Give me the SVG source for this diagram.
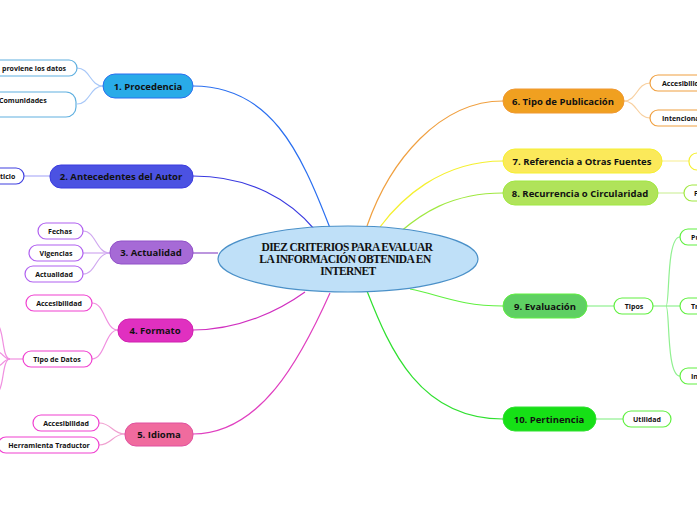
<svg xmlns="http://www.w3.org/2000/svg" width="697" height="520" viewBox="0 0 697 520">
<style>
.m{font-family:"Open Sans","Noto Sans",sans-serif;font-weight:bold;font-size:9.5px;fill:#111;text-anchor:middle}
.s{font-family:"Open Sans","Noto Sans",sans-serif;font-weight:bold;font-size:7px;fill:#111;text-anchor:middle}
.st{text-anchor:start}
.sb{fill:#fff;stroke-width:1.2}
.c{fill:none;stroke-width:1.2}
</style>
<rect width="697" height="520" fill="#fff"/>
<g id="connectors">
<path class="c" stroke="#2a6ff0" d="M193,86 C270,86 300,150 330,228"/>
<path class="c" stroke="#3a3ae0" d="M193,176 C250,176 290,200 315,230"/>
<path class="c" stroke="#9050c8" d="M193,253 L218,253"/>
<path class="c" stroke="#d030c0" d="M193,330 C240,330 280,310 305,292"/>
<path class="c" stroke="#e040c0" d="M193,434 C260,434 300,360 330,293"/>
<path class="c" stroke="#f0a040" d="M503,101 C440,101 390,160 367,226"/>
<path class="c" stroke="#f5f030" d="M503,161 C440,161 400,200 380,227"/>
<path class="c" stroke="#a0e840" d="M503,193 C450,193 420,215 400,232"/>
<path class="c" stroke="#60f040" d="M503,306 C460,306 440,295 410,289"/>
<path class="c" stroke="#30e030" d="M503,419 C420,419 390,350 367,291"/>
<g stroke="#a8c8f8" class="c"><path d="M103,86 C90,86 90,68 77,68"/><path d="M103,86 C90,86 90,104 77,104"/></g>
<path class="c" stroke="#b0b0f8" d="M50,176 L24,176"/>
<g stroke="#d0a8f0" class="c"><path d="M110,253 C96,253 96,231 83,231"/><path d="M110,253 L83,253"/><path d="M110,253 C96,253 96,274 83,274"/></g>
<g stroke="#f090e0" class="c"><path d="M118,330 C105,330 105,303 92,303"/><path d="M118,330 C105,330 105,359 92,359"/><path d="M23,359 L8,359"/><path d="M10,359 C2,359 4,330 -2,325"/><path d="M10,359 C2,359 4,388 -2,392"/><path d="M10,359 C4,359 2,352 -2,352"/><path d="M10,359 C4,359 2,366 -2,366"/></g>
<g stroke="#f0a0d0" class="c"><path d="M125,434 C112,434 112,423 99,423"/><path d="M125,434 C112,434 112,445 99,445"/></g>
<g stroke="#f8d0a0" class="c"><path d="M624,101 C637,101 637,83 650,83"/><path d="M624,101 C637,101 637,118 650,118"/></g>
<path class="c" stroke="#f8f0a0" d="M662,161 L689,161"/>
<path class="c" stroke="#d0f0a0" d="M658,193 L684,193"/>
<g stroke="#90f090" class="c"><path d="M587,306 L614,306"/><path d="M653,306 L680,306"/><path d="M666,306 C670,306 666,237 680,237"/><path d="M666,306 C670,306 666,376 680,376"/><path d="M596,419 L623,419"/></g>
</g>
<g id="center"><ellipse cx="348" cy="259" rx="130" ry="33" fill="#bfe0f8" stroke="#4a90c8" stroke-width="1.2"/>
<text font-family="Liberation Serif,serif" font-weight="bold" font-size="11.5" text-anchor="middle" fill="#111" letter-spacing="-0.6"><tspan x="347" y="251">DIEZ CRITERIOS PARA EVALUAR</tspan><tspan x="345" y="263">LA INFORMACIÓN OBTENIDA EN</tspan><tspan x="348" y="275">INTERNET</tspan></text></g>
<g id="n1"><rect x="103" y="74" width="90" height="24" rx="12" fill="#29abe8" stroke="#2a6ff0"/><text class="m" x="148" y="90">1. Procedencia</text></g>
<g id="n1a"><rect class="sb" x="-10" y="60" width="87" height="16" rx="8" stroke="#60b0e0"/><text class="s st" x="2" y="71">proviene los datos</text></g>
<g id="n1b"><rect class="sb" x="-10" y="92" width="86" height="25" rx="10" stroke="#60b0e0"/><text class="s st" x="-1" y="103">Comunidades</text></g>
<g id="n2"><rect x="50" y="165" width="143" height="23" rx="11" fill="#4b52e2" stroke="#3a3ae0"/><text class="m" x="121" y="180">2. Antecedentes del Autor</text></g>
<g id="n2a"><rect class="sb" x="-10" y="168" width="34" height="16" rx="8" stroke="#4040e0"/><text class="s st" x="0" y="179">ticio</text></g>
<g id="n3"><rect x="110" y="241" width="83" height="23" rx="11" fill="#a66ad6" stroke="#9050c8"/><text class="m" x="151" y="256">3. Actualidad</text></g>
<g id="n3a"><rect class="sb" x="38" y="223" width="45" height="16" rx="8" stroke="#b060f0"/><text class="s" x="60" y="234">Fechas</text></g>
<g id="n3b"><rect class="sb" x="29" y="245" width="54" height="16" rx="8" stroke="#b060f0"/><text class="s" x="56" y="256">Vigencias</text></g>
<g id="n3c"><rect class="sb" x="25" y="266" width="58" height="16" rx="8" stroke="#b060f0"/><text class="s" x="54" y="277">Actualidad</text></g>
<g id="n4"><rect x="118" y="319" width="75" height="23" rx="11" fill="#e030c0" stroke="#d020b0"/><text class="m" x="155" y="334">4. Formato</text></g>
<g id="n4a"><rect class="sb" x="26" y="295" width="66" height="16" rx="8" stroke="#f040d0"/><text class="s" x="59" y="306">Accesibilidad</text></g>
<g id="n4b"><rect class="sb" x="23" y="351" width="69" height="16" rx="8" stroke="#f040d0"/><text class="s" x="57" y="362">Tipo de Datos</text></g>
<g id="n5"><rect x="125" y="423" width="68" height="23" rx="11" fill="#f06b9e" stroke="#e050a0"/><text class="m" x="159" y="438">5. Idioma</text></g>
<g id="n5a"><rect class="sb" x="33" y="415" width="66" height="16" rx="8" stroke="#f040d0"/><text class="s" x="66" y="426">Accesibilidad</text></g>
<g id="n5b"><rect class="sb" x="-2" y="437" width="101" height="16" rx="8" stroke="#f040d0"/><text class="s" x="49" y="448">Herramienta Traductor</text></g>
<g id="n6"><rect x="503" y="89" width="121" height="24" rx="12" fill="#f0a020" stroke="#f09830"/><text class="m" x="563" y="105">6. Tipo de Publicación</text></g>
<g id="n6a"><rect class="sb" x="650" y="75" width="60" height="16" rx="8" stroke="#f0a040"/><text class="s st" x="662" y="86">Accesibilidad</text></g>
<g id="n6b"><rect class="sb" x="650" y="110" width="60" height="16" rx="8" stroke="#f0a040"/><text class="s st" x="662" y="121">Intencionalidad</text></g>
<g id="n7"><rect x="503" y="149" width="159" height="24" rx="12" fill="#fbe95a" stroke="#f5f030"/><text class="m" x="582" y="165">7. Referencia a Otras Fuentes</text></g>
<g id="n7a"><rect class="sb" x="689" y="153" width="30" height="17" rx="8" stroke="#f5f030"/></g>
<g id="n8"><rect x="503" y="181" width="155" height="24" rx="12" fill="#b0e35a" stroke="#a0e840"/><text class="m" x="580" y="197">8. Recurrencia o Circularidad</text></g>
<g id="n8a"><rect class="sb" x="684" y="185" width="30" height="16" rx="8" stroke="#a0e840"/><text class="s st" x="694" y="196">F</text></g>
<g id="n9"><rect x="503" y="294" width="84" height="24" rx="12" fill="#5fd063" stroke="#60f040"/><text class="m" x="545" y="310">9. Evaluación</text></g>
<g id="n9a"><rect class="sb" x="614" y="298" width="39" height="16" rx="8" stroke="#60f040"/><text class="s" x="634" y="309">Tipos</text></g>
<g id="n9b"><rect class="sb" x="680" y="229" width="30" height="16" rx="8" stroke="#60f040"/><text class="s st" x="691" y="240">Pu</text></g>
<g id="n9c"><rect class="sb" x="680" y="298" width="30" height="16" rx="8" stroke="#60f040"/><text class="s st" x="691" y="309">Tr</text></g>
<g id="n9d"><rect class="sb" x="680" y="368" width="30" height="16" rx="8" stroke="#60f040"/><text class="s st" x="691" y="379">In</text></g>
<g id="n10"><rect x="503" y="407" width="93" height="24" rx="12" fill="#16e016" stroke="#30e030"/><text class="m" x="549" y="423">10. Pertinencia</text></g>
<g id="n10a"><rect class="sb" x="623" y="411" width="48" height="16" rx="8" stroke="#60f040"/><text class="s" x="647" y="422">Utilidad</text></g>
</svg>
